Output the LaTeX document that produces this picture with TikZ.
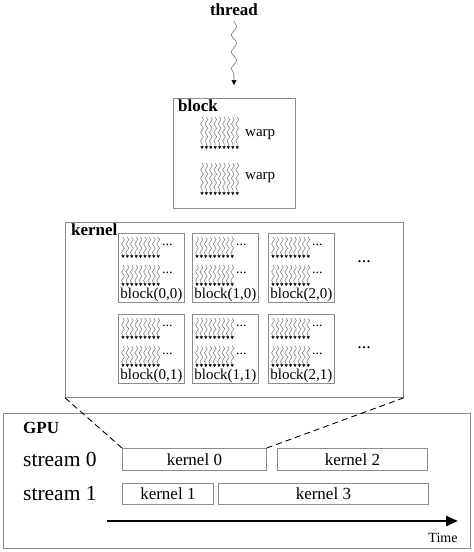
\documentclass[tikz,border=0pt]{standalone}
\usepackage{fontspec}
\setmainfont{Liberation Serif}
\usetikzlibrary{arrows.meta,decorations.pathmorphing}
\tikzset{
  frame/.style={draw=black!45, line width=0.8pt, inner sep=0pt, anchor=north west},
  lbl/.style={inner sep=0pt},
  bigbold/.style={lbl, font=\fontsize{17}{19}\selectfont\bfseries},
  warpline/.style={draw=black!55, line width=0.5pt, decorate,
    decoration={snake, amplitude=1.4pt, segment length=8.5pt, post length=2.5pt},
    -{Triangle[length=2.6pt,width=3.2pt,color=black]}},
  dashline/.style={line width=0.9pt, dash pattern=on 6pt off 4pt},
}
\newcommand{\warpgroup}[4]{% x0, y0, dx, h
  \foreach \i in {0,...,8}{\draw[warpline] ({#1+\i*#3},#2) -- ++(0,#4);}}
\begin{document}
\begin{tikzpicture}[x=1pt,y=-1pt]
\useasboundingbox (0,0) rectangle (474,552);
% thread
\node[bigbold] (thread) at (234,10) {thread};
\coordinate (threadend) at (234,85);
\draw[draw=black!55, line width=0.6pt, decorate,
  decoration={snake, amplitude=2.6pt, segment length=17pt, post length=5pt},
  -{Triangle[length=5pt,width=5pt,color=black]}] (234,21) -- (threadend);
% block box
\node[frame, minimum width=122pt, minimum height=110pt] (block) at (173,98) {};
\node[bigbold, anchor=north west] (blocklbl) at (178,100) {block};
\warpgroup{202}{117}{4.4}{32}
\warpgroup{202}{163}{4.4}{32}
\node[lbl, anchor=west, font=\fontsize{15}{17}\selectfont] (warp1) at (245,135) {warp};
\node[lbl, anchor=west, font=\fontsize{15}{17}\selectfont] (warp2) at (245,178) {warp};
% kernel box
\node[frame, minimum width=338pt, minimum height=175pt] (kernel) at (65,222) {};
\node[bigbold, anchor=north west] (kernellbl) at (71,224) {kernel};
\foreach \c/\x in {0/118,1/192,2/268}{
  \foreach \r/\y in {0/233,1/314}{
    \node[frame, minimum width=66pt, minimum height=69pt] (b\c\r) at (\x,\y) {};
    \warpgroup{\x+5}{\y+4}{4.4}{21}
    \warpgroup{\x+5}{\y+32}{4.4}{21}
    \node[lbl, anchor=west, font=\fontsize{14}{16}\selectfont] (d1\c\r) at (\x+44,\y+12) {...};
    \node[lbl, anchor=west, font=\fontsize{14}{16}\selectfont] (d2\c\r) at (\x+44,\y+40) {...};
    \node[lbl, anchor=south, font=\fontsize{15}{17}\selectfont] (bl\c\r) at ([yshift=1pt]b\c\r.south) {block(\c,\r)};
  }}
\node[lbl, font=\fontsize{18}{20}\selectfont] (dotsA) at (364,262) {...};
\node[lbl, font=\fontsize{18}{20}\selectfont] (dotsB) at (364,348) {...};
% GPU box
\node[frame, minimum width=467pt, minimum height=135pt] (gpu) at (3,413) {};
\node[bigbold, anchor=west] (gpulbl) at (23,428) {GPU};
\node[lbl, anchor=west, font=\fontsize{21.5}{24}\selectfont] (s0) at (23,459) {stream 0};
\node[lbl, anchor=west, font=\fontsize{21.5}{24}\selectfont] (s1) at (23,494) {stream 1};
\tikzset{kbox/.style={frame, font=\fontsize{17}{19}\selectfont}}
\node[kbox, minimum width=144pt, minimum height=22pt] (k0) at (122,448) {};
\node[lbl, font=\fontsize{17}{19}\selectfont] at (k0.center) {kernel 0};
\node[kbox, minimum width=150pt, minimum height=22pt] (k2) at (277,448) {};
\node[lbl, font=\fontsize{17}{19}\selectfont] at (k2.center) {kernel 2};
\node[kbox, minimum width=91pt, minimum height=21pt] (k1) at (122,483) {};
\node[lbl, font=\fontsize{17}{19}\selectfont] at (k1.center) {kernel 1};
\node[kbox, minimum width=210pt, minimum height=21pt] (k3) at (218,483) {};
\node[lbl, font=\fontsize{17}{19}\selectfont] at (k3.center) {kernel 3};
\coordinate (tstart) at (107,521);
\coordinate (tend) at (458,521);
\draw[line width=2.6pt, -{Triangle[length=12pt,width=10pt]}] (tstart) -- (tend);
\node[lbl, font=\fontsize{14}{16}\selectfont] (time) at (443,538) {Time};
% dashed connectors
\draw[dashline] (kernel.south west) -- (k0.north west);
\draw[dashline] (kernel.south east) -- (k0.north east);
\end{tikzpicture}
\end{document}
